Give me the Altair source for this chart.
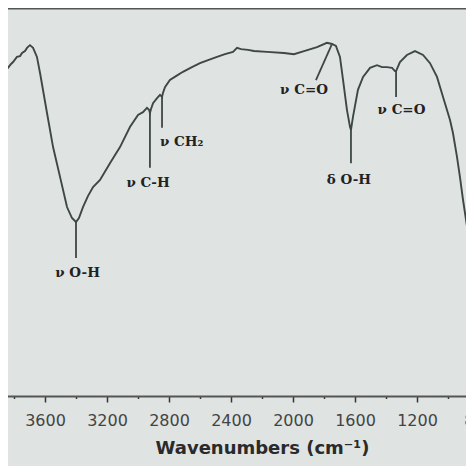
import altair as alt
import pandas as pd

# Spectrum (wavenumber cm^-1, transmittance %)
wavenumber = [3890, 3858, 3839, 3819, 3806, 3781, 3761, 3748, 3729, 3716, 3697, 3677, 3652, 3632,
              3587, 3548, 3503, 3458, 3426, 3400, 3381, 3355, 3323, 3290, 3245, 3181, 3116, 3052,
              3000, 2968, 2942, 2929, 2923, 2916, 2903, 2877, 2858, 2845, 2839, 2826, 2794, 2755,
              2710, 2652, 2600, 2548, 2490, 2439, 2387, 2361, 2335, 2290, 2252, 2168, 2058, 1994,
              1929, 1845, 1781, 1748, 1723, 1697, 1677, 1652, 1632, 1626, 1613, 1581, 1548, 1503,
              1458, 1426, 1394, 1361, 1342, 1335, 1310, 1265, 1213, 1161, 1116, 1071, 1032, 987,
              968, 942, 923, 903, 871, 845, 826, 800]
transmittance = [83.7, 83.9, 83.7, 84.7, 85.2, 86.5, 86.7, 87.5, 88.0, 88.8, 89.5, 88.8, 86.5, 82.4,
                 72.2, 63.5, 55.9, 48.2, 45.4, 44.4, 45.4, 48.2, 51.0, 53.3, 55.1, 59.4, 63.5, 68.6,
                 71.7, 72.4, 73.5, 73.0, 72.2, 73.2, 74.7, 76.0, 76.8, 76.3, 77.3, 78.8, 80.6, 81.6,
                 82.7, 83.9, 84.9, 85.7, 86.5, 87.2, 87.8, 88.8, 88.5, 88.3, 88.0, 87.8, 87.5, 87.2,
                 88.0, 89.0, 90.1, 89.8, 89.3, 86.5, 80.6, 73.0, 68.6, 67.9, 71.2, 78.1, 81.4, 83.7,
                 84.4, 83.9, 83.9, 83.7, 82.9, 82.9, 85.2, 87.0, 88.0, 87.0, 84.9, 81.4, 76.3, 70.4,
                 67.1, 61.0, 55.9, 50.0, 41.6, 24.5, 14.3, 4.1]

# Band assignments
band_labels = ["ν O-H", "ν C-H", "ν CH₂", "ν C=O", "δ O-H", "ν C=O"]
marker_wn_start = [3400, 2923, 2845, 1748, 1626, 1335]
marker_wn_end = [3400, 2923, 2845, 1852, 1626, 1335]
marker_t_start = [44.4, 72.2, 76.3, 89.8, 67.9, 82.9]
marker_t_end = [35.2, 58.2, 68.4, 80.6, 59.4, 76.3]
label_wn = [3390, 2935, 2718, 1929, 1639, 1300]
label_t = [31.3, 54.3, 64.8, 78.1, 55.1, 73.0]

tick_values = list(range(4000, 799, -200))

spec = pd.DataFrame({"wn": wavenumber, "t": transmittance})
ann = pd.DataFrame({"label": band_labels, "x1": marker_wn_start, "x2": marker_wn_end,
                    "y1": marker_t_start, "y2": marker_t_end, "lx": label_wn, "ly": label_t})

xscale = alt.Scale(domain=[4000, 800], range=[-25, 471], zero=False, nice=False)
yscale = alt.Scale(domain=[0, 100], range=[388, -4], zero=False, nice=False)

INK = "#3d4746"

line = alt.Chart(spec).mark_line(color=INK, strokeWidth=1.9, clip=True).encode(
    x=alt.X("wn:Q", scale=xscale, axis=alt.Axis(
        orient="bottom", values=tick_values, format="d",
        labelExpr="datum.value % 400 == 0 ? datum.label : ''",
        tickSize={"expr": "datum.value % 400 == 0 ? 6 : 2.5"},
        tickColor="#333", tickWidth=1.5, domainColor="#555", domainWidth=2,
        labelFont="DejaVu Sans", labelFontSize=16, labelColor="#444", labelPadding=10,
        labelOverlap=False, labelFlush=False, grid=False,
        title="Wavenumbers (cm⁻¹)", titleFont="DejaVu Sans", titleFontSize=18,
        titleFontWeight="bold", titleColor="#2a2a2a", titleX=254, titleY=52,
        titleAlign="center", titleBaseline="middle")),
    y=alt.Y("t:Q", scale=yscale, axis=None),
    order=alt.Order("idx:Q"),
).transform_window(idx="row_number()")

rules = alt.Chart(ann).mark_rule(color=INK, strokeWidth=1.8).encode(
    x=alt.X("x1:Q", scale=xscale, axis=alt.Axis(orient="top", labels=False, ticks=False,
                                                 domain=True, domainColor="#555", domainWidth=2,
                                                 grid=False, title=None)),
    x2="x2:Q",
    y=alt.Y("y1:Q", scale=yscale, axis=None),
    y2="y2:Q",
)

texts = alt.Chart(ann).mark_text(font="DejaVu Serif", fontSize=13.5, fontWeight="bold",
                                 color="#222", align="center", baseline="middle").encode(
    x=alt.X("lx:Q", scale=xscale),
    y=alt.Y("ly:Q", scale=yscale),
    text="label:N",
)

chart = alt.layer(line, rules + texts).resolve_axis(x="independent").properties(
    width=458, height=388,
    autosize=alt.AutoSizeParams(type="none"),
    padding={"left": 0, "top": 0, "right": 0, "bottom": 70},
    background="#dfe3e2",
).configure_view(stroke=None, fill=None)

chart.save("out.html", embed_options={"renderer": "svg", "actions": False})
